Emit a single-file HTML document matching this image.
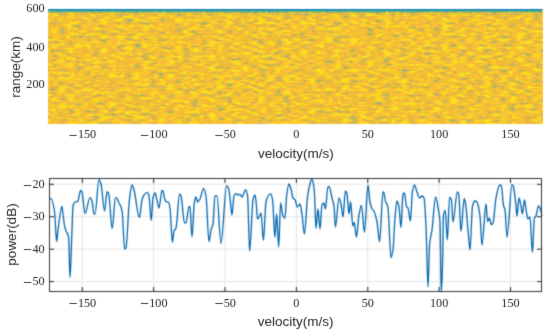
<!DOCTYPE html>
<html><head><meta charset="utf-8"><style>
html,body{margin:0;padding:0;background:#fff;width:550px;height:336px;overflow:hidden}
svg{display:block}
.t text{font-family:"Liberation Serif",serif;font-size:12.2px;fill:#262626}
.t .m{font-size:16px}
.l{font-family:"Liberation Sans",sans-serif;font-size:13.5px;fill:#262626}
</style></head><body>
<svg width="550" height="336" viewBox="0 0 550 336">
<defs>
<filter id="soft" filterUnits="userSpaceOnUse" x="0" y="0" width="550" height="336" color-interpolation-filters="sRGB"><feConvolveMatrix order="3" kernelMatrix="1 2 1 2 12 2 1 2 1" edgeMode="duplicate"/></filter>
<filter id="softt" filterUnits="userSpaceOnUse" x="0" y="0" width="550" height="336" color-interpolation-filters="sRGB"><feConvolveMatrix order="3" kernelMatrix="0 1 0 1 10 1 0 1 0" edgeMode="none"/></filter>
<filter id="noise" x="0" y="0" width="100%" height="100%" color-interpolation-filters="sRGB">
<feTurbulence type="fractalNoise" baseFrequency="0.12 0.36" numOctaves="3" seed="3" result="n"/>
<feColorMatrix type="matrix" values="1 0 0 0 0  1 0 0 0 0  1 0 0 0 0  0 0 0 0 1" in="n" result="g"/>
<feComponentTransfer in="g" result="c">
<feFuncR type="table" tableValues="0.450 0.469 0.489 0.508 0.527 0.547 0.566 0.585 0.605 0.631 0.689 0.747 0.804 0.856 0.887 0.919 0.950 0.954 0.957 0.961 0.964 0.968 0.971 0.974 0.978 0.980 0.980 0.980 0.980 0.980 0.980 0.980 0.980 0.980 0.980 0.980 0.980 0.980 0.980 0.980 0.980"/>
<feFuncG type="table" tableValues="0.680 0.685 0.689 0.694 0.698 0.703 0.707 0.712 0.716 0.720 0.720 0.720 0.720 0.720 0.720 0.720 0.720 0.727 0.734 0.741 0.749 0.756 0.769 0.791 0.812 0.833 0.849 0.864 0.880 0.883 0.887 0.890 0.893 0.897 0.900 0.903 0.907 0.910 0.913 0.917 0.920"/>
<feFuncB type="table" tableValues="0.520 0.509 0.497 0.486 0.475 0.463 0.452 0.440 0.429 0.414 0.384 0.354 0.324 0.296 0.274 0.252 0.230 0.225 0.219 0.214 0.209 0.203 0.194 0.178 0.162 0.148 0.139 0.129 0.120 0.118 0.117 0.115 0.113 0.112 0.110 0.108 0.107 0.105 0.103 0.102 0.100"/>
</feComponentTransfer>
<feGaussianBlur in="c" stdDeviation="0.4"/>
</filter>
<linearGradient id="topband" x1="0" y1="0" x2="0" y2="1">
<stop offset="0" stop-color="#1a8fcc"/>
<stop offset="0.25" stop-color="#0877c2"/>
<stop offset="0.5" stop-color="#2aa8a0" stop-opacity="0.9"/>
<stop offset="0.75" stop-color="#7cba78" stop-opacity="0.6"/>
<stop offset="1" stop-color="#c8bc50" stop-opacity="0"/>
</linearGradient>
<filter id="bandf" filterUnits="userSpaceOnUse" x="48.4" y="10" width="493.8" height="5" color-interpolation-filters="sRGB">
<feTurbulence type="fractalNoise" baseFrequency="0.35 0.5" numOctaves="2" seed="11"/>
<feColorMatrix type="matrix" values="0 0 0 0 0.16  0 0 0 0 0.64  0 0 0 0 0.64  3.2 0 0 0 -1.25"/>
</filter>
<linearGradient id="bandfade" x1="0" y1="0" x2="0" y2="1">
<stop offset="0" stop-color="#fff"/><stop offset="1" stop-color="#fff" stop-opacity="0"/>
</linearGradient>
<mask id="bandmask" maskUnits="userSpaceOnUse" x="48.4" y="10" width="493.8" height="5"><rect x="48.4" y="10" width="493.8" height="5" fill="url(#bandfade)"/></mask>
</defs>
<g filter="url(#soft)">
<rect width="550" height="336" fill="#fff"/>
<rect x="48.4" y="9" width="493.8" height="114.6" fill="#f3c13a"/>
<rect x="48.4" y="9" width="493.8" height="114.6" filter="url(#noise)"/>
<rect x="48.4" y="9" width="493.8" height="3.8" fill="url(#topband)"/>
<g mask="url(#bandmask)"><rect x="48.4" y="10" width="493.8" height="5" filter="url(#bandf)"/></g>
<path fill="none" stroke="#dedede" stroke-width="0.8" d="M82.30 178.5V291.5M153.67 178.5V291.5M225.03 178.5V291.5M296.40 178.5V291.5M367.77 178.5V291.5M439.13 178.5V291.5M510.50 178.5V291.5M49.5 184.30H541.5M49.5 216.73H541.5M49.5 249.17H541.5M49.5 281.60H541.5"/>
<path fill="none" stroke="#0064ae" stroke-width="1.3" stroke-linejoin="round" d="M49.4 199.0C49.9 198.9 50.5 198.6 51.0 198.6C52.2 198.6 53.4 204.4 54.6 212.0C55.3 216.2 55.9 241.6 56.6 241.6C57.1 241.6 57.5 233.3 58.0 230.0C59.3 220.6 60.7 206.4 62.0 206.4C62.3 206.4 62.6 211.3 62.9 213.5C63.6 218.7 64.3 225.5 65.0 228.0C65.5 229.9 66.1 230.7 66.6 232.0C67.3 233.7 67.9 233.8 68.6 237.0C69.1 239.3 69.5 277.6 70.0 277.6C70.7 277.6 71.3 245.9 72.0 230.0C72.3 222.0 72.7 207.4 73.0 206.0C73.7 203.3 74.3 202.2 75.0 202.0C75.7 201.8 76.3 201.8 77.0 201.6C77.3 201.5 77.7 201.3 78.0 201.0C78.8 200.2 79.7 190.3 80.5 190.3C81.0 190.3 81.5 191.1 82.0 192.0C83.0 193.8 84.0 213.6 85.0 213.6C86.7 213.6 88.3 197.6 90.0 197.6C90.7 197.6 91.3 199.2 92.0 201.0C92.7 202.8 93.3 214.0 94.0 214.0C94.3 214.0 94.7 214.0 95.0 214.0C96.3 214.0 97.7 179.6 99.0 179.6C99.7 179.6 100.3 181.8 101.0 184.0C102.2 187.9 103.4 211.0 104.6 211.0C105.4 211.0 106.3 191.6 107.1 191.6C107.6 191.6 108.1 192.5 108.6 193.5C109.8 195.9 111.0 228.4 112.2 228.4C113.3 228.4 114.3 198.6 115.4 198.0C115.8 197.8 116.2 197.6 116.6 197.6C117.4 197.6 118.2 201.3 119.0 203.0C119.7 204.4 120.3 205.1 121.0 207.0C121.4 208.1 121.8 209.5 122.2 212.0C123.0 216.9 123.8 249.0 124.6 249.0C125.1 249.0 125.5 248.4 126.0 247.6C127.1 245.7 128.3 209.1 129.4 200.0C130.3 193.0 131.1 185.0 132.0 185.0C132.7 185.0 133.3 187.9 134.0 190.0C135.8 195.7 137.6 217.6 139.4 217.6C140.3 217.6 141.1 203.1 142.0 200.0C142.7 197.6 143.3 195.8 144.0 195.0C145.1 193.6 146.3 192.4 147.4 192.4C147.9 192.4 148.5 194.1 149.0 196.0C149.7 198.7 150.5 220.6 151.2 220.6C151.8 220.6 152.4 200.5 153.0 198.0C153.7 195.2 154.3 193.0 155.0 193.0C155.7 193.0 156.3 197.5 157.0 200.0C157.7 202.5 158.3 208.0 159.0 208.0C160.0 208.0 161.0 190.4 162.0 190.4C162.3 190.4 162.7 190.7 163.0 191.0C163.5 191.5 163.9 196.5 164.4 198.0C164.9 199.7 165.5 201.4 166.0 201.6C166.8 201.9 167.6 201.7 168.4 202.0C168.9 202.2 169.5 204.9 170.0 208.0C170.8 212.6 171.6 242.4 172.4 242.4C172.9 242.4 173.5 232.4 174.0 231.0C174.7 229.3 175.3 229.6 176.0 228.0C177.2 225.1 178.4 194.0 179.6 194.0C180.1 194.0 180.5 195.0 181.0 196.0C182.1 198.5 183.3 221.7 184.4 222.4C184.9 222.7 185.5 223.0 186.0 223.0C187.0 223.0 188.0 206.4 189.0 206.4C189.3 206.4 189.7 206.7 190.0 207.0C190.7 207.7 191.3 237.0 192.0 237.0C192.8 237.0 193.6 205.9 194.4 202.0C194.9 199.4 195.5 197.0 196.0 197.0C196.5 197.0 197.1 202.0 197.6 202.0C198.4 202.0 199.2 200.4 200.0 199.0C201.2 196.9 202.4 188.4 203.6 188.4C204.4 188.4 205.2 191.9 206.0 196.0C207.0 201.1 208.0 241.6 209.0 241.6C209.7 241.6 210.3 232.6 211.0 230.0C211.7 227.4 212.3 227.3 213.0 224.0C213.7 220.7 214.3 196.0 215.0 196.0C215.7 196.0 216.3 196.0 217.0 196.0C218.3 196.0 219.7 243.6 221.0 243.6C222.9 243.6 224.7 186.0 226.6 186.0C227.2 186.0 227.8 186.9 228.4 188.0C228.9 189.0 229.5 194.2 230.0 198.0C230.7 202.8 231.3 215.0 232.0 215.0C232.7 215.0 233.3 197.4 234.0 196.0C234.7 194.6 235.3 193.6 236.0 193.6C236.7 193.6 237.3 195.0 238.0 195.0C238.7 195.0 239.3 194.4 240.0 194.4C240.7 194.4 241.3 197.0 242.0 197.0C243.2 197.0 244.4 189.6 245.6 189.6C246.3 189.6 246.9 192.2 247.6 196.0C248.3 199.8 248.9 251.0 249.6 251.0C250.7 251.0 251.9 204.6 253.0 200.0C253.7 197.3 254.3 195.0 255.0 195.0C255.5 195.0 256.0 201.0 256.5 206.0C256.8 209.0 257.1 219.0 257.4 219.0C257.9 219.0 258.5 217.8 259.0 217.0C259.7 216.0 260.3 213.0 261.0 213.0C261.8 213.0 262.6 240.4 263.4 240.4C264.3 240.4 265.1 206.2 266.0 202.0C266.7 198.8 267.3 197.0 268.0 196.0C268.9 194.7 269.7 193.6 270.6 193.6C271.3 193.6 271.9 196.5 272.6 200.0C273.4 204.0 274.1 237.4 274.9 237.4C275.5 237.4 276.0 214.0 276.6 214.0C277.3 214.0 278.0 247.0 278.7 247.0C279.3 247.0 280.0 203.0 280.6 203.0C281.4 203.0 282.2 214.5 283.0 216.0C283.7 217.3 284.3 218.4 285.0 218.4C285.5 218.4 286.1 200.1 286.6 196.0C287.4 189.9 288.2 184.0 289.0 184.0C289.7 184.0 290.3 186.9 291.0 189.0C291.7 191.1 292.3 197.1 293.0 198.0C293.7 198.9 294.3 198.8 295.0 199.6C295.8 200.6 296.6 207.0 297.4 207.0C298.3 207.0 299.1 204.0 300.0 204.0C300.7 204.0 301.3 209.9 302.0 214.0C302.8 219.0 303.6 234.0 304.4 234.0C305.5 234.0 306.5 203.5 307.6 196.0C308.2 191.5 308.9 188.5 309.5 186.0C310.3 183.0 311.0 178.8 311.8 178.8C312.4 178.8 313.0 181.7 313.6 185.0C313.9 186.8 314.3 191.1 314.6 196.0C315.1 202.8 315.5 228.4 316.0 228.4C316.7 228.4 317.3 209.0 318.0 209.0C318.7 209.0 319.3 229.0 320.0 229.0C320.7 229.0 321.3 206.2 322.0 205.0C322.7 203.8 323.3 203.0 324.0 203.0C324.5 203.0 324.9 209.0 325.4 209.0C326.3 209.0 327.1 186.4 328.0 186.4C328.5 186.4 328.9 186.7 329.4 187.0C330.3 187.6 331.1 194.4 332.0 198.0C332.7 200.7 333.3 201.6 334.0 206.0C334.5 209.1 334.9 227.0 335.4 227.0C336.6 227.0 337.8 198.0 339.0 198.0C339.7 198.0 340.3 201.3 341.0 204.0C341.7 206.7 342.3 217.0 343.0 217.0C343.8 217.0 344.6 191.0 345.4 191.0C345.9 191.0 346.5 192.4 347.0 194.0C347.7 196.1 348.3 214.0 349.0 214.0C349.5 214.0 350.1 201.6 350.6 201.6C351.3 201.6 352.1 226.0 352.8 226.0C353.3 226.0 353.8 222.5 354.3 222.5C355.0 222.5 355.7 237.0 356.4 237.0C357.3 237.0 358.1 219.6 359.0 215.0C359.8 210.6 360.7 205.3 361.5 205.3C362.5 205.3 363.4 232.3 364.4 232.3C365.6 232.3 366.8 185.0 368.0 185.0C368.7 185.0 369.3 198.7 370.0 202.0C370.7 205.3 371.3 208.0 372.0 209.0C372.7 210.0 373.3 210.0 374.0 211.0C375.0 212.5 376.0 217.0 377.0 222.0C377.9 226.3 378.7 241.6 379.6 241.6C380.7 241.6 381.9 191.6 383.0 191.6C383.3 191.6 383.7 192.3 384.0 193.0C384.5 194.1 385.1 200.8 385.6 202.0C386.1 203.0 386.5 203.0 387.0 204.0C387.3 204.7 387.7 206.1 388.0 208.0C389.0 213.8 390.0 257.6 391.0 257.6C391.7 257.6 392.3 254.1 393.0 250.0C393.7 245.9 394.3 225.4 395.0 218.0C395.7 210.6 396.3 201.0 397.0 201.0C397.7 201.0 398.3 203.9 399.0 207.0C399.7 210.1 400.3 227.6 401.0 227.6C401.7 227.6 402.3 194.9 403.0 194.0C403.5 193.4 403.9 193.0 404.4 193.0C405.1 193.0 405.7 204.6 406.4 206.0C406.9 207.1 407.5 207.0 408.0 208.0C408.8 209.6 409.6 221.0 410.4 221.0C411.1 221.0 411.7 195.8 412.4 192.0C413.1 188.2 413.7 185.0 414.4 185.0C415.3 185.0 416.1 189.8 417.0 192.0C417.9 194.2 418.7 198.0 419.6 198.0C420.4 198.0 421.2 196.0 422.0 196.0C422.7 196.0 423.3 196.8 424.0 198.0C424.7 199.2 425.3 213.2 426.0 226.0C426.7 238.8 427.3 287.0 428.0 287.0C428.5 287.0 429.1 249.3 429.6 244.0C430.4 236.0 431.2 235.6 432.0 230.0C433.2 221.6 434.4 197.0 435.6 197.0C436.5 197.0 437.5 204.5 438.4 210.0C438.9 213.1 439.5 214.6 440.0 222.0C440.4 227.5 440.8 292.0 441.2 292.0C441.6 292.0 442.0 280.8 442.4 270.0C442.8 260.1 443.1 216.9 443.5 215.0C444.1 211.9 444.7 210.4 445.3 210.4C446.0 210.4 446.6 240.0 447.3 240.0C448.1 240.0 448.8 197.3 449.6 197.3C450.2 197.3 450.7 197.9 451.3 199.0C451.9 200.1 452.4 222.0 453.0 222.0C454.4 222.0 455.9 192.0 457.3 192.0C457.8 192.0 458.2 192.9 458.7 194.0C459.5 195.9 460.2 231.3 461.0 231.3C462.1 231.3 463.1 198.7 464.2 198.7C464.7 198.7 465.1 201.5 465.6 204.0C466.4 208.3 467.2 221.7 468.0 230.0C468.7 236.9 469.3 250.0 470.0 250.0C470.8 250.0 471.7 209.0 472.5 206.0C473.3 203.0 474.2 201.0 475.0 201.0C475.7 201.0 476.3 201.4 477.0 202.0C478.0 202.9 479.0 208.7 480.0 216.0C480.7 220.9 481.3 245.0 482.0 245.0C483.3 245.0 484.7 204.0 486.0 204.0C486.5 204.0 487.1 221.5 487.6 221.5C488.2 221.5 488.7 218.2 489.3 218.2C490.0 218.2 490.8 224.8 491.5 224.8C492.0 224.8 492.5 224.0 493.0 223.0C494.0 221.1 495.0 202.9 496.0 198.0C497.3 191.8 498.5 185.0 499.8 185.0C500.3 185.0 500.8 185.4 501.3 186.0C502.1 186.9 502.8 202.8 503.6 206.0C504.1 207.9 504.5 207.9 505.0 210.0C505.7 213.0 506.3 237.0 507.0 237.0C508.7 237.0 510.3 184.4 512.0 184.4C512.4 184.4 512.8 185.2 513.2 186.0C514.0 187.7 514.8 195.5 515.6 202.0C516.1 205.8 516.5 216.0 517.0 216.0C517.7 216.0 518.3 198.0 519.0 198.0C519.7 198.0 520.3 202.8 521.0 206.0C521.5 208.2 521.9 214.0 522.4 214.0C523.1 214.0 523.8 199.6 524.5 199.6C525.1 199.6 525.8 208.7 526.4 212.0C526.9 214.8 527.5 219.0 528.0 219.0C528.7 219.0 529.3 217.0 530.0 217.0C530.8 217.0 531.6 252.4 532.4 252.4C533.1 252.4 533.7 219.5 534.4 218.0C534.9 216.8 535.5 217.0 536.0 216.0C536.8 214.5 537.6 206.0 538.4 206.0C538.9 206.0 539.5 207.0 540.0 208.0C540.7 209.2 541.3 213.3 542.0 216.0"/>
<rect x="49.5" y="178.5" width="492.0" height="113.0" fill="none" stroke="#333333" stroke-width="1.0"/>
<path fill="none" stroke="#262626" stroke-width="1.0" d="M49.5 184.30h4.5M541.5 184.30h-4.5M49.5 216.73h4.5M541.5 216.73h-4.5M49.5 249.17h4.5M541.5 249.17h-4.5M49.5 281.60h4.5M541.5 281.60h-4.5M82.30 291.5v-4.5M82.30 178.5v4.5M153.67 291.5v-4.5M153.67 178.5v4.5M225.03 291.5v-4.5M225.03 178.5v4.5M296.40 291.5v-4.5M296.40 178.5v4.5M367.77 291.5v-4.5M367.77 178.5v4.5M439.13 291.5v-4.5M439.13 178.5v4.5M510.50 291.5v-4.5M510.50 178.5v4.5"/>
</g>
<g filter="url(#softt)">
<g class="t">
<text transform="translate(26.30,12.35) scale(1,1.07)">600</text>
<text transform="translate(26.30,50.75) scale(1,1.07)">400</text>
<text transform="translate(26.30,88.25) scale(1,1.07)">200</text>
<text transform="translate(68.62,138.05) scale(1,1.07)"><tspan class="m" dy="2.6">−</tspan><tspan dy="-2.6" dx="0.25">150</tspan></text>
<text transform="translate(139.98,138.05) scale(1,1.07)"><tspan class="m" dy="2.6">−</tspan><tspan dy="-2.6" dx="0.26">100</tspan></text>
<text transform="translate(214.40,138.05) scale(1,1.07)"><tspan class="m" dy="2.6">−</tspan><tspan dy="-2.6" dx="0.26">50</tspan></text>
<text transform="translate(293.35,138.05) scale(1,1.07)">0</text>
<text transform="translate(361.67,138.05) scale(1,1.07)">50</text>
<text transform="translate(429.98,138.05) scale(1,1.07)">100</text>
<text transform="translate(501.35,138.05) scale(1,1.07)">150</text>
</g>
<text class="l" x="295.8" y="157.6" text-anchor="middle">velocity(m/s)</text>
<text class="l" transform="translate(20.1,67.0) rotate(-90)" text-anchor="middle">range(km)</text>
<g class="t">
<text transform="translate(23.12,187.73) scale(1,1.07)"><tspan class="m" dy="2.6">−</tspan><tspan dy="-2.6" dx="0.26">20</tspan></text>
<text transform="translate(23.12,220.16) scale(1,1.07)"><tspan class="m" dy="2.6">−</tspan><tspan dy="-2.6" dx="0.26">30</tspan></text>
<text transform="translate(23.12,252.60) scale(1,1.07)"><tspan class="m" dy="2.6">−</tspan><tspan dy="-2.6" dx="0.26">40</tspan></text>
<text transform="translate(23.12,285.03) scale(1,1.07)"><tspan class="m" dy="2.6">−</tspan><tspan dy="-2.6" dx="0.26">50</tspan></text>
<text transform="translate(68.62,306.65) scale(1,1.07)"><tspan class="m" dy="2.6">−</tspan><tspan dy="-2.6" dx="0.25">150</tspan></text>
<text transform="translate(139.98,306.65) scale(1,1.07)"><tspan class="m" dy="2.6">−</tspan><tspan dy="-2.6" dx="0.26">100</tspan></text>
<text transform="translate(214.40,306.65) scale(1,1.07)"><tspan class="m" dy="2.6">−</tspan><tspan dy="-2.6" dx="0.26">50</tspan></text>
<text transform="translate(293.35,306.65) scale(1,1.07)">0</text>
<text transform="translate(361.67,306.65) scale(1,1.07)">50</text>
<text transform="translate(429.98,306.65) scale(1,1.07)">100</text>
<text transform="translate(501.35,306.65) scale(1,1.07)">150</text>
</g>
<text class="l" x="295.6" y="325.5" text-anchor="middle">velocity(m/s)</text>
<text class="l" transform="translate(16.1,234.5) rotate(-90)" text-anchor="middle">power(dB)</text>
</g>
</svg>
</body></html>
